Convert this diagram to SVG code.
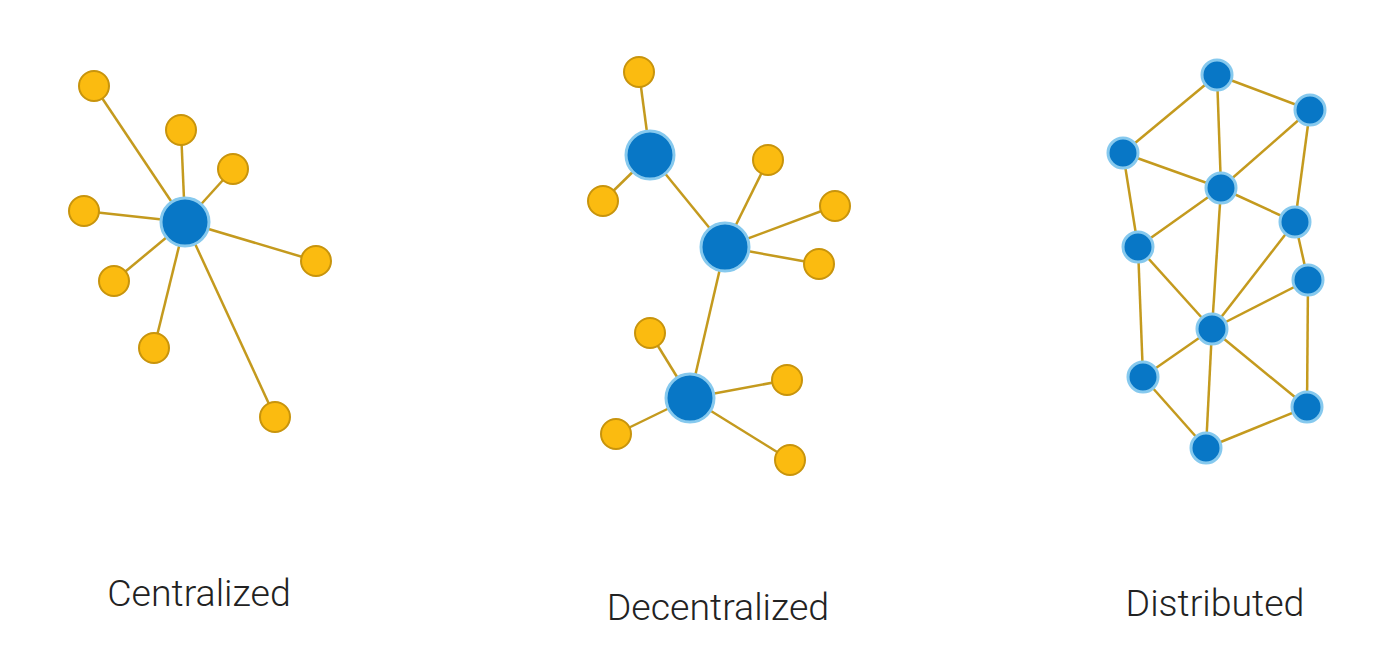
<svg xmlns="http://www.w3.org/2000/svg" width="1400" height="654" viewBox="0 0 1400 654">
<style>
.e{stroke:#C49A1E;stroke-width:2.5;fill:none}
.leaf{fill:#FBBB10;stroke:#C8940C;stroke-width:2}
.hub{fill:#0877C6;stroke:#86C9EE;stroke-width:3}
.dn{fill:#0877C6;stroke:#86C9EE;stroke-width:3}
.lbl{font-family:Roboto,"Liberation Sans",sans-serif;font-weight:300;font-size:37.5px;fill:#222;text-anchor:middle}
</style>
<rect width="1400" height="654" fill="#fff"/>
<g id="connectors">
<!-- centralized -->
<line class="e" x1="185" y1="222" x2="94" y2="86"/>
<line class="e" x1="185" y1="222" x2="181" y2="130"/>
<line class="e" x1="185" y1="222" x2="233" y2="169"/>
<line class="e" x1="185" y1="222" x2="84" y2="211"/>
<line class="e" x1="185" y1="222" x2="316" y2="261"/>
<line class="e" x1="185" y1="222" x2="114" y2="281"/>
<line class="e" x1="185" y1="222" x2="154" y2="348"/>
<line class="e" x1="185" y1="222" x2="275" y2="417"/>
<!-- decentralized -->
<line class="e" x1="650" y1="155" x2="639" y2="72"/>
<line class="e" x1="650" y1="155" x2="603" y2="201"/>
<line class="e" x1="650" y1="155" x2="725" y2="247"/>
<line class="e" x1="725" y1="247" x2="768" y2="160"/>
<line class="e" x1="725" y1="247" x2="835" y2="206"/>
<line class="e" x1="725" y1="247" x2="819" y2="264"/>
<line class="e" x1="725" y1="247" x2="690" y2="398"/>
<line class="e" x1="690" y1="398" x2="650" y2="333"/>
<line class="e" x1="690" y1="398" x2="787" y2="380"/>
<line class="e" x1="690" y1="398" x2="616" y2="434"/>
<line class="e" x1="690" y1="398" x2="790" y2="460"/>
<!-- distributed -->
<line class="e" x1="1217" y1="75" x2="1310" y2="110"/>
<line class="e" x1="1217" y1="75" x2="1123" y2="153"/>
<line class="e" x1="1217" y1="75" x2="1221" y2="188"/>
<line class="e" x1="1310" y1="110" x2="1221" y2="188"/>
<line class="e" x1="1310" y1="110" x2="1295" y2="222"/>
<line class="e" x1="1123" y1="153" x2="1221" y2="188"/>
<line class="e" x1="1123" y1="153" x2="1138" y2="247"/>
<line class="e" x1="1221" y1="188" x2="1295" y2="222"/>
<line class="e" x1="1221" y1="188" x2="1138" y2="247"/>
<line class="e" x1="1221" y1="188" x2="1212" y2="329"/>
<line class="e" x1="1295" y1="222" x2="1212" y2="329"/>
<line class="e" x1="1295" y1="222" x2="1308" y2="280"/>
<line class="e" x1="1138" y1="247" x2="1212" y2="329"/>
<line class="e" x1="1138" y1="247" x2="1143" y2="377"/>
<line class="e" x1="1308" y1="280" x2="1212" y2="329"/>
<line class="e" x1="1308" y1="280" x2="1307" y2="407"/>
<line class="e" x1="1212" y1="329" x2="1143" y2="377"/>
<line class="e" x1="1212" y1="329" x2="1206" y2="448"/>
<line class="e" x1="1212" y1="329" x2="1307" y2="407"/>
<line class="e" x1="1143" y1="377" x2="1206" y2="448"/>
<line class="e" x1="1206" y1="448" x2="1307" y2="407"/>
</g>
<g id="centralized">
<g id="c-hub"><circle class="hub" cx="185" cy="222" r="24"/></g>
<g id="c-l1"><circle class="leaf" cx="94" cy="86" r="15"/></g>
<g id="c-l2"><circle class="leaf" cx="181" cy="130" r="15"/></g>
<g id="c-l3"><circle class="leaf" cx="233" cy="169" r="15"/></g>
<g id="c-l4"><circle class="leaf" cx="84" cy="211" r="15"/></g>
<g id="c-l5"><circle class="leaf" cx="316" cy="261" r="15"/></g>
<g id="c-l6"><circle class="leaf" cx="114" cy="281" r="15"/></g>
<g id="c-l7"><circle class="leaf" cx="154" cy="348" r="15"/></g>
<g id="c-l8"><circle class="leaf" cx="275" cy="417" r="15"/></g>
</g>
<g id="decentralized">
<g id="d-hub1"><circle class="hub" cx="650" cy="155" r="24"/></g>
<g id="d-hub2"><circle class="hub" cx="725" cy="247" r="24"/></g>
<g id="d-hub3"><circle class="hub" cx="690" cy="398" r="24"/></g>
<g id="d-l1"><circle class="leaf" cx="639" cy="72" r="15"/></g>
<g id="d-l2"><circle class="leaf" cx="603" cy="201" r="15"/></g>
<g id="d-l3"><circle class="leaf" cx="768" cy="160" r="15"/></g>
<g id="d-l4"><circle class="leaf" cx="835" cy="206" r="15"/></g>
<g id="d-l5"><circle class="leaf" cx="819" cy="264" r="15"/></g>
<g id="d-l6"><circle class="leaf" cx="650" cy="333" r="15"/></g>
<g id="d-l7"><circle class="leaf" cx="787" cy="380" r="15"/></g>
<g id="d-l8"><circle class="leaf" cx="616" cy="434" r="15"/></g>
<g id="d-l9"><circle class="leaf" cx="790" cy="460" r="15"/></g>
</g>
<g id="distributed">
<g id="n-a"><circle class="dn" cx="1217" cy="75" r="15"/></g>
<g id="n-b"><circle class="dn" cx="1310" cy="110" r="15"/></g>
<g id="n-c"><circle class="dn" cx="1123" cy="153" r="15"/></g>
<g id="n-d"><circle class="dn" cx="1221" cy="188" r="15"/></g>
<g id="n-e"><circle class="dn" cx="1295" cy="222" r="15"/></g>
<g id="n-f"><circle class="dn" cx="1138" cy="247" r="15"/></g>
<g id="n-g"><circle class="dn" cx="1308" cy="280" r="15"/></g>
<g id="n-h"><circle class="dn" cx="1212" cy="329" r="15"/></g>
<g id="n-i"><circle class="dn" cx="1143" cy="377" r="15"/></g>
<g id="n-j"><circle class="dn" cx="1307" cy="407" r="15"/></g>
<g id="n-k"><circle class="dn" cx="1206" cy="448" r="15"/></g>
</g>
<g id="labels">
<text class="lbl" x="199" y="606">Centralized</text>
<text class="lbl" x="718" y="620">Decentralized</text>
<text class="lbl" x="1215" y="616">Distributed</text>
</g>
</svg>
